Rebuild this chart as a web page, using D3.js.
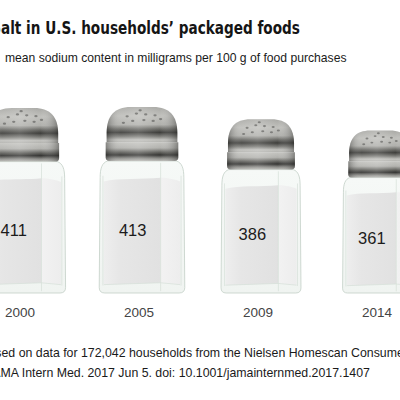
<!DOCTYPE html>
<html>
<head>
<meta charset="utf-8">
<script src="https://cdn.jsdelivr.net/npm/d3@7"></script>
<style>
    html, body { margin: 0; padding: 0; background: #fff; overflow: hidden; }
    svg { display: block; }
</style>
</head>
<body>
<div id="chart"></div>
<script>
const years = ["2000", "2005", "2009", "2014"];
const sodium = [411, 413, 386, 361];

const titleText = "Salt in U.S. households\u2019 packaged foods";
const subtitleText = "mean sodium content in milligrams per 100 g of food purchases";
const noteText = "Note: Based on data for 172,042 households from the Nielsen Homescan Consumer Panel";
const sourceText = "Source: JAMA Intern Med. 2017 Jun 5. doi: 10.1001/jamainternmed.2017.1407";

const width = 400, height = 400;
const baseY = 293;
const textFont = "'Liberation Sans', Arial, sans-serif";
const titleFont = "'Liberation Sans Narrow', 'DejaVu Sans Condensed', sans-serif";

const data = years.map((y, i) => ({year: y, value: sodium[i]}));

const svg = d3.select("#chart").append("svg")
    .attr("width", width)
    .attr("height", height);

const defs = svg.append("defs");

function gradient(id, stops, horizontal) {
    const g = defs.append("linearGradient")
        .attr("id", id)
        .attr("x1", 0).attr("y1", 0)
        .attr("x2", horizontal ? 1 : 0).attr("y2", horizontal ? 0 : 1);
    g.selectAll("stop").data(stops).join("stop")
        .attr("offset", d => d[0])
        .attr("stop-color", d => d[1])
        .attr("stop-opacity", d => d[2] == null ? 1 : d[2]);
}

gradient("capV", [[0, "#a9a9a5"], [0.25, "#c0c0bc"], [0.5, "#b0b0ac"], [0.62, "#6c6c68"], [0.72, "#3e3e3b"], [0.83, "#7c7c78"], [0.93, "#c2c2be"], [1, "#b2b2ae"]]);
gradient("ringV", [[0, "#c4c4c0"], [0.3, "#b2b2ae"], [0.55, "#5c5c58"], [0.68, "#343432"], [0.85, "#8a8a86"], [1, "#bcbcb8"]]);
gradient("metalH", [[0, "#2e2e2c", 0.4], [0.2, "#ffffff", 0.08], [0.45, "#ffffff", 0.18], [0.75, "#ffffff", 0], [1, "#262624", 0.4]], true);
gradient("saltFront", [[0, "#eeeeee"], [0.3, "#e6e6e6"], [1, "#e1e1e1"]], true);
gradient("saltSide", [[0, "#f2f2f2"], [1, "#ededed"]], true);
gradient("glassV", [[0, "#f6f9f7"], [1, "#f0f4f1"]]);

// scales
const x = d3.scalePoint().domain(years).range([23, 380]);
const h = d3.scaleLinear().domain([0, 413]).range([0, 186]);
const unit = d => h(d.value) / 100;   // template is 100 units tall

const shakers = svg.append("g").selectAll("g")
    .data(data)
    .join("g")
    .attr("transform", d => `translate(${x(d.year)},${baseY}) scale(${unit(d)})`);

// glass body
shakers.append("path")
    .attr("d", "M-18.5,-71 L18.5,-71 C21.5,-70 22.5,-67 22.5,-62 L23,-3 Q23,0 20,0 L-20,0 Q-23,0 -23,-3 L-22.5,-62 C-22.5,-67 -21.5,-70 -18.5,-71 Z")
    .attr("fill", "url(#glassV)")
    .attr("stroke", "#c3cfc6")
    .attr("stroke-width", 0.8)
    .attr("vector-effect", "non-scaling-stroke");

// salt
shakers.append("path")
    .attr("d", "M-20.5,-60 C-13,-62 0,-61 10,-62 L10,-5.5 L-20.5,-4.5 Z")
    .attr("fill", "url(#saltFront)");
shakers.append("path")
    .attr("d", "M10,-62 C14,-62 18,-61 20.5,-60 L20.5,-4.5 L10,-5.5 Z")
    .attr("fill", "url(#saltSide)");

// glass edges
shakers.append("path")
    .attr("d", "M10,-70 L10,-1 M-21,-63 L-21,-4 M21,-63 L21,-4 M-20.5,-4.5 L10,-5.5 L20.5,-4.5")
    .attr("fill", "none")
    .attr("stroke", "#d6dfd8")
    .attr("stroke-width", 0.7)
    .attr("vector-effect", "non-scaling-stroke");

// cap ring
const ring = "M-19.5,-81 L19.5,-81 L19.5,-73 Q19.5,-71 17.5,-71 L-17.5,-71 Q-19.5,-71 -19.5,-73 Z";
shakers.append("path").attr("d", ring).attr("fill", "url(#ringV)");
shakers.append("path").attr("d", ring).attr("fill", "url(#metalH)");

// cap dome
const dome = "M-19,-81 L-19,-86 C-19,-95 -15,-100 -6,-100 L6,-100 C15,-100 19,-95 19,-86 L19,-81 Z";
shakers.append("path").attr("d", dome).attr("fill", "url(#capV)");
shakers.append("path").attr("d", dome).attr("fill", "url(#metalH)");

// holes in the cap
const holes = [[-8, -95], [-3, -96.5], [2, -96], [7, -95.5], [-5, -92.5], [1, -93], [6, -92.5], [10, -93.5], [-10, -91.5], [-1, -98.2]];
shakers.append("g").selectAll("ellipse")
    .data(holes)
    .join("ellipse")
    .attr("cx", d => d[0])
    .attr("cy", d => d[1])
    .attr("rx", 0.9)
    .attr("ry", 0.6)
    .attr("fill", "#4d4d4a")
    .attr("opacity", 0.55);

// value labels on the salt
svg.append("g").selectAll("text")
    .data(data)
    .join("text")
    .attr("x", d => x(d.year) - 5 * unit(d))
    .attr("y", d => baseY - 34 * unit(d))
    .attr("dy", "0.36em")
    .attr("text-anchor", "middle")
    .attr("font-family", textFont)
    .attr("font-size", 16.5)
    .attr("fill", "#1b1b1b")
    .text(d => d.value);

// year labels
svg.append("g").selectAll("text")
    .data(data)
    .join("text")
    .attr("x", d => x(d.year) - 3)
    .attr("y", 317)
    .attr("text-anchor", "middle")
    .attr("font-family", textFont)
    .attr("font-size", 13.5)
    .attr("fill", "#444")
    .text(d => d.year);

// text lines, partly cut off at the left edge
function fitLine(node, skip, x0, x1) {
    const n = node.getNumberOfChars();
    if (x1 != null) {
        const w = node.getSubStringLength(skip, n - skip);
        const fs = parseFloat(node.getAttribute("font-size")) * (x1 - x0) / w;
        node.setAttribute("font-size", fs);
    }
    const pre = skip > 0 ? node.getSubStringLength(0, skip) : 0;
    node.setAttribute("x", x0 - pre);
    return parseFloat(node.getAttribute("font-size"));
}

// keeps the font size, squeezes the glyphs sideways instead
function squeezeLine(node, skip, x0, x1) {
    const n = node.getNumberOfChars();
    const w = node.getSubStringLength(skip, n - skip);
    const sx = (x1 - x0) / w;
    const pre = skip > 0 ? node.getSubStringLength(0, skip) : 0;
    node.setAttribute("x", 0);
    node.setAttribute("transform", `translate(${x0 - pre * sx},0) scale(${sx},1)`);
}

const title = svg.append("text")
    .attr("y", 34)
    .attr("font-family", titleFont)
    .attr("font-size", 17.5)
    .attr("font-weight", "bold")
    .attr("fill", "#151515")
    .text(titleText);
squeezeLine(title.node(), 1, 1, 300);

const subtitle = svg.append("text")
    .attr("y", 62)
    .attr("font-family", textFont)
    .attr("font-size", 12)
    .attr("fill", "#1a1a1a")
    .text(subtitleText);
fitLine(subtitle.node(), 0, 5, 347);

const source = svg.append("text")
    .attr("y", 377)
    .attr("font-family", textFont)
    .attr("font-size", 12)
    .attr("fill", "#1a1a1a")
    .text(sourceText);
const footSize = fitLine(source.node(), 10, 0.5, 370);

const note = svg.append("text")
    .attr("y", 357)
    .attr("font-family", textFont)
    .attr("font-size", footSize)
    .attr("fill", "#1a1a1a")
    .text(noteText);
fitLine(note.node(), 9, 1.5, null);
</script>
</body>
</html>
